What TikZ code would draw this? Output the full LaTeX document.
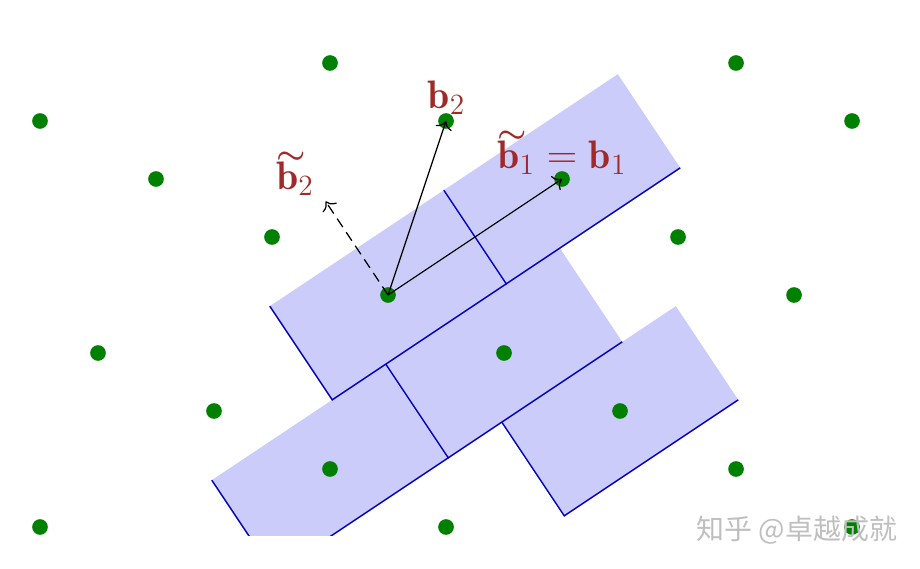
\documentclass[tikz,border=0pt]{standalone}
\usepackage{amsmath}
\usepackage{graphicx}
\usepackage{fontspec}
\usetikzlibrary{arrows.meta}
\newfontfamily\cjk{Noto Sans CJK SC}
\definecolor{lblred}{RGB}{160,42,42}
\definecolor{cellfill}{RGB}{204,204,250}
\definecolor{dotgreen}{RGB}{0,128,0}
\definecolor{edgeblue}{RGB}{0,0,190}
\newcommand{\gstilde}[1]{{\makebox[0pt][l]{\raisebox{12.5pt}{\scalebox{1.12}[1.0]{$\scriptstyle\boldsymbol{\sim}$}}}#1}}
\begin{document}
\begin{tikzpicture}[
  dot/.style={circle,fill=dotgreen,inner sep=0pt,minimum size=0.27cm},
  celledge/.style={draw=edgeblue,line width=0.7pt},
  vec/.style={-{To[scale=1.35]},line width=0.6pt},
  lbl/.style={text=lblred,font=\fontsize{19.5}{22}\selectfont,inner sep=0pt},
  wmark/.style={text=black!25,font=\cjk\fontsize{13.7}{15}\selectfont}
]
\useasboundingbox (-6.690,-4.707) rectangle (9.172,5.086);
\begin{scope}
\clip (-6.690,-4.138) rectangle (9.172,5.086);
% Gram--Schmidt cells
\foreach \cx/\cy in {0/0,3/2,2/-1,-1/-3,4/-2}{
  \begin{scope}[shift={(\cx,\cy)}]
    \fill[cellfill] (-2.03846,-0.19231) -- (0.96154,1.80769) -- (2.03846,0.19231) -- (-0.96154,-1.80769) -- cycle;
  \end{scope}
}
\foreach \cx/\cy in {0/0,3/2,2/-1,-1/-3,4/-2}{
  \begin{scope}[shift={(\cx,\cy)}]
    \draw[celledge] (-2.03846,-0.19231) -- (-0.96154,-1.80769) -- (2.03846,0.19231);
  \end{scope}
}
% lattice points
\foreach \n/\x/\y in {P1/-1/4,P2/6/4,P3/-6/3,B2/1/3,P5/8/3,P6/-4/2,B1/3/2,P8/-2/1,P9/5/1,O/0/0,P11/7/0,P12/-5/-1,P13/2/-1,P14/-3/-2,P15/4/-2,P16/-1/-3,P17/6/-3,P18/-6/-4,P19/1/-4,P20/8/-4}{
  \node[dot] (\n) at (\x,\y) {};
}
\end{scope}
\coordinate (T2) at (-1.07692,1.61538);
\draw[vec] (O.center) -- (B1.center);
\draw[vec] (O.center) -- (B2.center);
\draw[vec,dash pattern=on 5pt off 3pt] (O.center) -- (T2);
\node[lbl] (LB2) at (1.009,3.40) {$\mathbf{b}_2$};
\node[lbl] (LB1) at (3.00,2.45) {$\gstilde{\mathbf{b}}_1=\mathbf{b}_1$};
\node[lbl] (LT2) at (-1.603,2.09) {$\gstilde{\mathbf{b}}_2$};
\node[wmark] (WM) at (7.05,-4.05) {知乎 @卓越成就};
\end{tikzpicture}
\end{document}
